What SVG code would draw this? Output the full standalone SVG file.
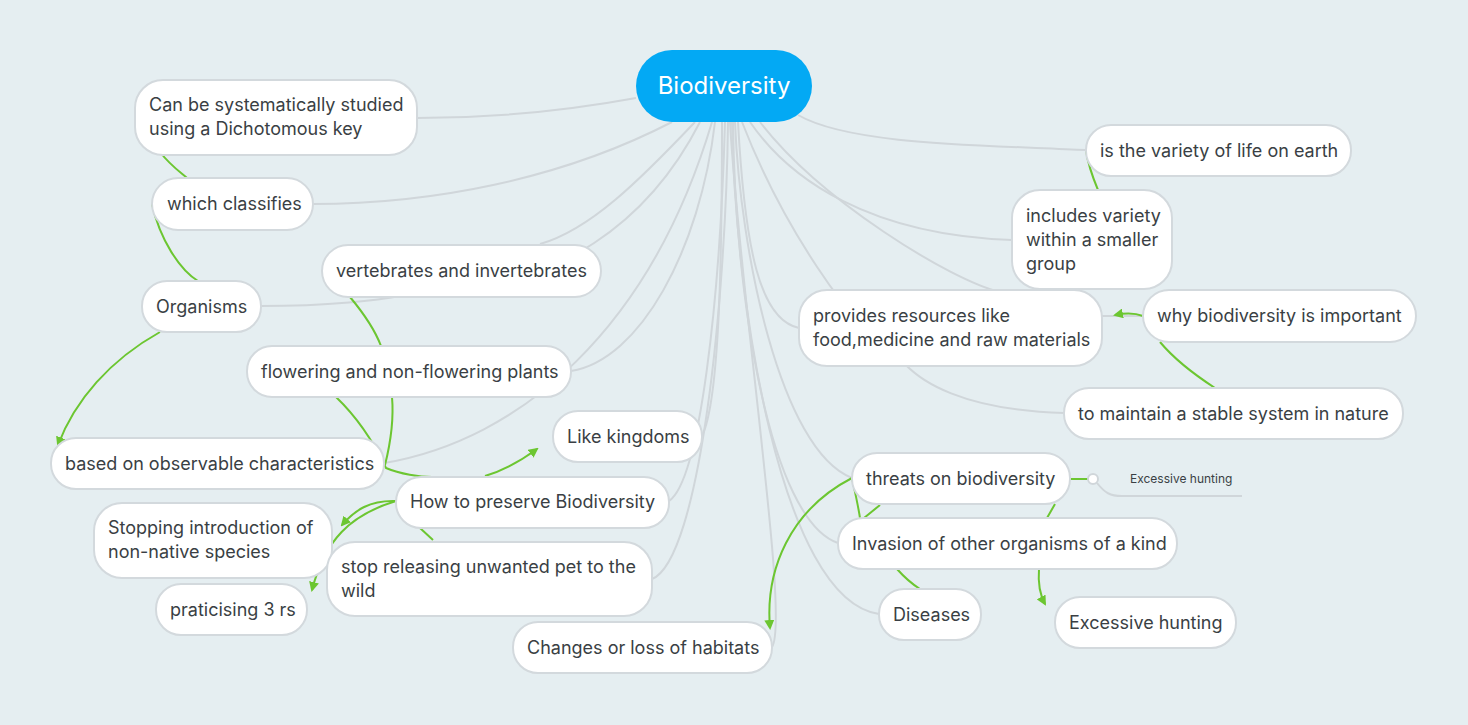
<svg xmlns="http://www.w3.org/2000/svg" width="1468" height="725" viewBox="0 0 1468 725">
<style>
.n{fill:#fff;stroke:#d3d9dd;stroke-width:2}
.t{font-family:Inter,"Noto Sans",sans-serif;font-size:18px;fill:#3a3f44}
.g{fill:none;stroke:#d0d6da;stroke-width:2}
.e{fill:none;stroke:#6cc631;stroke-width:2}
.a{marker-end:url(#ar)}
</style>
<defs><marker id="ar" viewBox="0 0 10 10" refX="8" refY="5" markerWidth="5" markerHeight="5" orient="auto"><path d="M0,0L10,5L0,10z" fill="#6cc631"/></marker></defs>
<rect width="1468" height="725" fill="#e5eef1"/>
<g id="connectors">
<path class="g" d="M636,98 C560,112 480,118 417,118"/>
<path class="g" d="M672,122 C560,180 430,204 313,204"/>
<path class="g" d="M695,122 C640,180 590,230 540,244"/>
<path class="g" d="M261,306 C330,306 380,300 400,296 M700,122 C650,220 560,290 420,294"/>
<path class="g" d="M571,371 C640,360 700,250 715,122"/>
<path class="g" d="M384,463 C520,440 650,330 712,122"/>
<path class="g" d="M702,436 C720,400 722,250 722,122"/>
<path class="g" d="M669,501 C700,480 720,300 725,122"/>
<path class="g" d="M652,579 C700,560 726,300 728,122"/>
<path class="g" d="M772,647 C790,620 740,300 730,122"/>
<path class="g" d="M852,478 C780,450 740,250 735,122"/>
<path class="g" d="M838,543 C770,520 735,300 733,122"/>
<path class="g" d="M879,614 C780,600 735,300 732,122"/>
<path class="g" d="M799,328 C760,320 745,250 738,122"/>
<path class="g" d="M1064,413 C960,410 920,380 905,364 M905,364 C850,330 780,220 742,122"/>
<path class="g" d="M1012,240 C870,235 790,180 750,122"/>
<path class="g" d="M1086,150 C980,145 850,145 798,115"/>
<path class="g" d="M760,122 C820,200 950,280 1000,292 M1102,316 L1143,316"/>
<path class="e" d="M160,152 C170,165 180,172 187,178"/>
<path class="e" d="M152,204 C160,240 180,270 198,281"/>
<path class="e a" d="M160,332 C110,360 75,400 58,445"/>
<path class="e" d="M350,297 C365,315 375,330 381,346"/>
<path class="e" d="M336,397 C360,420 375,445 386,468 C400,474 420,477 432,477"/>
<path class="e" d="M392,397 C394,420 390,445 385,465"/>
<path class="e a" d="M485,476 C505,470 522,460 537,449"/>
<path class="e a" d="M396,501 C370,500 355,510 342,525"/>
<path class="e a" d="M396,501 C350,515 325,540 312,590"/>
<path class="e" d="M420,528 L433,540"/>
<path class="e a" d="M1143,316 C1135,313 1125,313 1115,315"/>
<path class="e" d="M1160,342 C1175,360 1195,375 1215,388"/>
<path class="e" d="M1086,150 C1088,165 1093,178 1098,190"/>
<path class="e a" d="M852,478 C790,510 765,570 770,628"/>
<path class="e" d="M852,478 C855,492 858,505 860,518 M880,505 L864,518 M1055,504 L1047,518 M897,569 C905,578 912,584 920,589"/>
<path class="e a" d="M1039,569 C1038,582 1040,595 1045,604"/>
<path class="e" d="M1070,479 L1088,479"/>
<circle cx="1093" cy="479" r="5" fill="#fff" stroke="#d0d6da" stroke-width="2"/>
<path class="g" d="M1097,483 C1105,493 1110,496 1122,496 L1242,496"/>
</g>
<g id="root"><rect x="636" y="50" width="176" height="72" rx="36" fill="#03a9f4"/><text x="724" y="94" text-anchor="middle" font-family="Inter,'Noto Sans',sans-serif" font-size="24" fill="#fff">Biodiversity</text></g>
<g id="n1"><rect class="n" x="135" y="80" width="282" height="75" rx="28"/><text class="t" x="149" y="111">Can be systematically studied</text><text class="t" x="149" y="135">using a Dichotomous key</text></g>
<g id="n2"><rect class="n" x="152" y="178" width="161" height="52" rx="26"/><text class="t" x="167" y="210">which classifies</text></g>
<g id="n3"><rect class="n" x="322" y="245" width="279" height="52" rx="26"/><text class="t" x="336" y="277">vertebrates and invertebrates</text></g>
<g id="n4"><rect class="n" x="142" y="281" width="119" height="51" rx="25"/><text class="t" x="156" y="313">Organisms</text></g>
<g id="n5"><rect class="n" x="247" y="346" width="324" height="51" rx="25"/><text class="t" x="261" y="378">flowering and non-flowering plants</text></g>
<g id="n6"><rect class="n" x="51" y="438" width="333" height="51" rx="25"/><text class="t" x="65" y="470">based on observable characteristics</text></g>
<g id="n7"><rect class="n" x="553" y="411" width="149" height="51" rx="25"/><text class="t" x="567" y="443">Like kingdoms</text></g>
<g id="n8"><rect class="n" x="396" y="477" width="273" height="51" rx="25"/><text class="t" x="410" y="508">How to preserve Biodiversity</text></g>
<g id="n9"><rect class="n" x="94" y="503" width="238" height="75" rx="28"/><text class="t" x="108" y="534">Stopping introduction of</text><text class="t" x="108" y="558">non-native species</text></g>
<g id="n10"><rect class="n" x="327" y="542" width="325" height="74" rx="28"/><text class="t" x="341" y="573">stop releasing unwanted pet to the</text><text class="t" x="341" y="597">wild</text></g>
<g id="n11"><rect class="n" x="156" y="584" width="151" height="51" rx="25"/><text class="t" x="170" y="616">praticising 3 rs</text></g>
<g id="n12"><rect class="n" x="513" y="622" width="259" height="51" rx="25"/><text class="t" x="527" y="654">Changes or loss of habitats</text></g>
<g id="n13"><rect class="n" x="1086" y="125" width="265" height="51" rx="25"/><text class="t" x="1100" y="157">is the variety of life on earth</text></g>
<g id="n14"><rect class="n" x="1012" y="190" width="160" height="99" rx="28"/><text class="t" x="1026" y="222">includes variety</text><text class="t" x="1026" y="246">within a smaller</text><text class="t" x="1026" y="270">group</text></g>
<g id="n15"><rect class="n" x="799" y="290" width="303" height="76" rx="28"/><text class="t" x="813" y="322">provides resources like</text><text class="t" x="813" y="346">food,medicine and raw materials</text></g>
<g id="n16"><rect class="n" x="1143" y="290" width="273" height="52" rx="26"/><text class="t" x="1157" y="322">why biodiversity is important</text></g>
<g id="n17"><rect class="n" x="1064" y="388" width="339" height="51" rx="25"/><text class="t" x="1078" y="420">to maintain a stable system in nature</text></g>
<g id="n18"><rect class="n" x="852" y="453" width="218" height="51" rx="25"/><text class="t" x="866" y="485">threats on biodiversity</text></g>
<g id="n19"><rect class="n" x="838" y="518" width="339" height="51" rx="25"/><text class="t" x="852" y="550">Invasion of other organisms of a kind</text></g>
<g id="n20"><rect class="n" x="879" y="589" width="102" height="51" rx="25"/><text class="t" x="893" y="621">Diseases</text></g>
<g id="n21"><rect class="n" x="1055" y="597" width="181" height="51" rx="25"/><text class="t" x="1069" y="629">Excessive hunting</text></g>
<g id="n22"><text x="1130" y="483" font-family="Inter,'Noto Sans',sans-serif" font-size="12" fill="#3a3f44">Excessive hunting</text></g>
</svg>
